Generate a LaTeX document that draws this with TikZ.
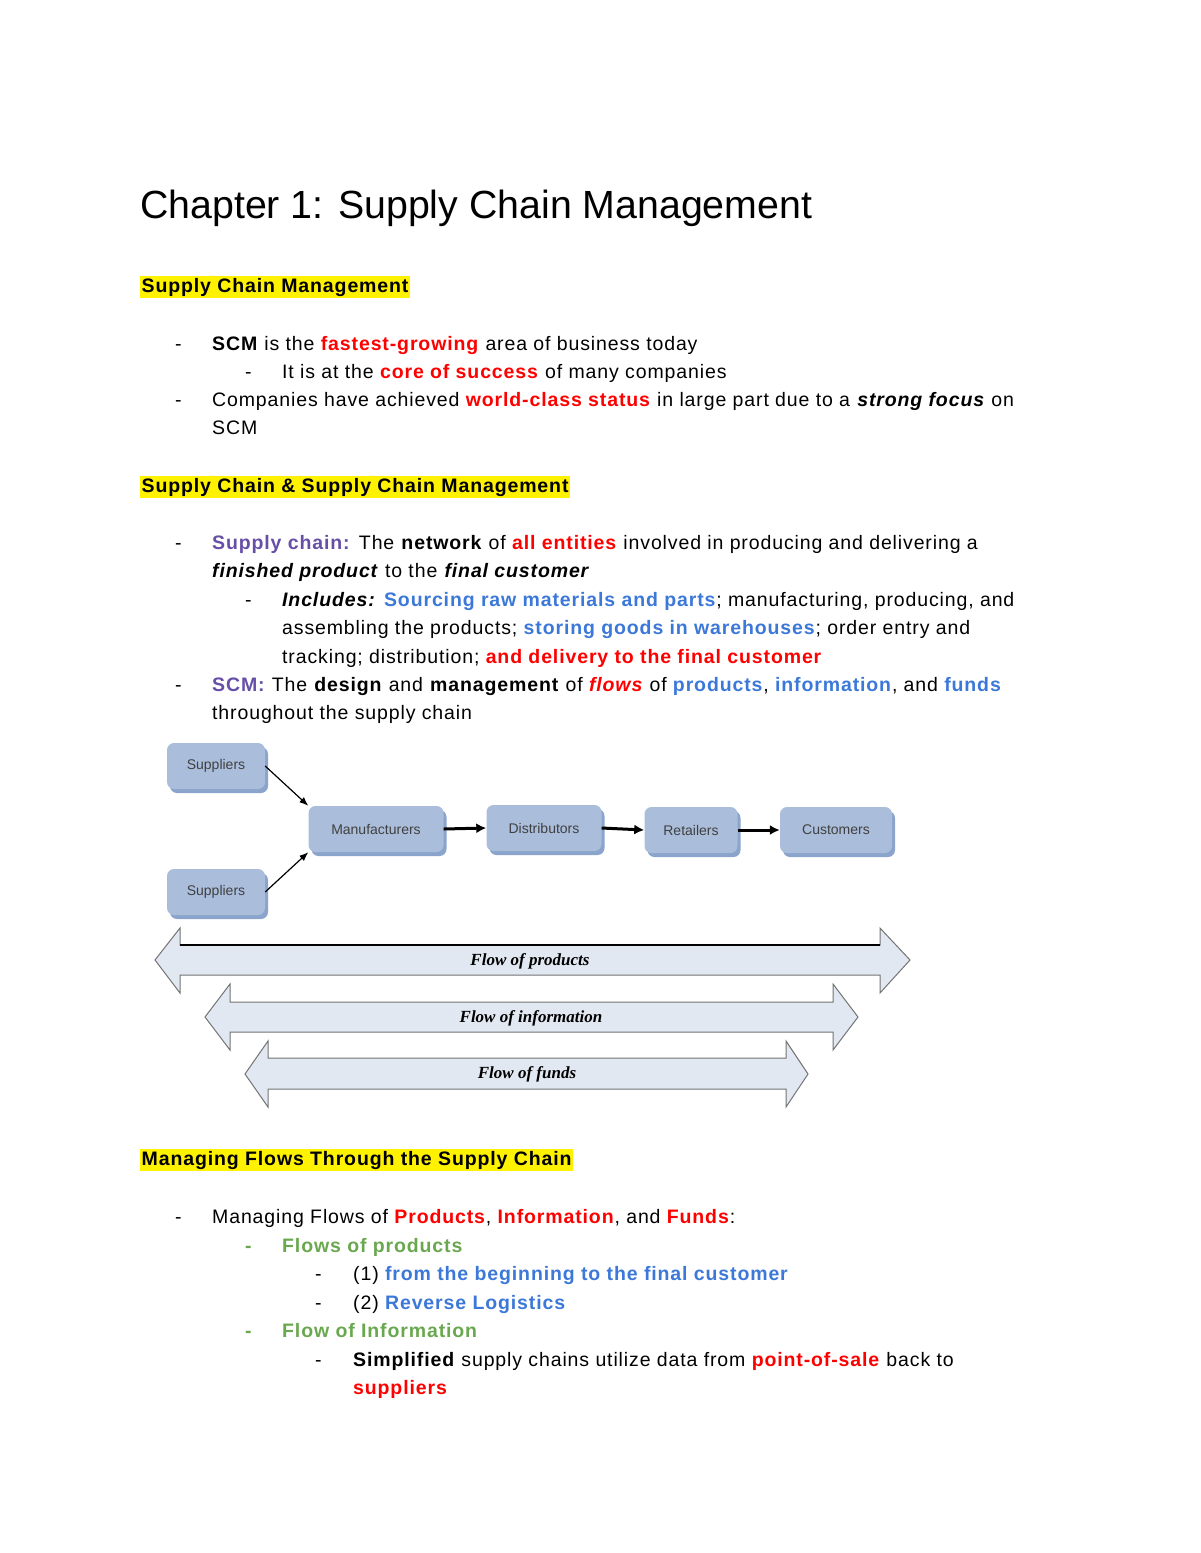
\documentclass[tikz,border=0pt]{standalone}
\usepackage{fontspec}
\setmainfont[LetterSpace=4.5]{Liberation Sans}
\newfontfamily\titlefont{Liberation Sans}
\newfontfamily\serifb{Liberation Serif}
\usetikzlibrary{arrows.meta,shadows}
\definecolor{myred}{HTML}{FF0000}
\definecolor{mypurple}{HTML}{674EA7}
\definecolor{myblue}{HTML}{3C78D8}
\definecolor{mygreen}{HTML}{6AA84F}
\definecolor{boxfill}{HTML}{AABDDB}
\definecolor{boxshade}{HTML}{8BA4CC}
\definecolor{arrfill}{HTML}{E2E8F2}
\newcommand\rb[1]{\textcolor{myred}{\textbf{#1}}}
\newcommand\bb[1]{\textcolor{myblue}{\textbf{#1}}}
\newcommand\pb[1]{\textcolor{mypurple}{\textbf{#1}}}
\newcommand\gb[1]{\textcolor{mygreen}{\textbf{#1}}}
\newcommand\bi[1]{\textbf{\textit{#1}}}
\begin{document}
\begin{tikzpicture}[x=1pt,y=-1pt,
  txt/.style={anchor=base west,inner sep=0pt,font=\fontsize{19.5}{23}\selectfont},
  hl/.style={anchor=base west,inner sep=1.5pt,fill=yellow,font=\fontsize{19.5}{23}\selectfont\bfseries},
  dsh/.style={anchor=base west,inner sep=0pt,font=\fontsize{19.5}{23}\selectfont},
  box/.style={draw=none,fill=boxfill,rounded corners=7pt,minimum height=46pt,font=\titlefont\fontsize{14}{16}\selectfont,text=black!75,
     drop shadow={shadow xshift=3pt,shadow yshift=-4pt,fill=boxshade,opacity=1}},
  conn/.style={-{Latex[length=9pt,width=7pt]},line width=1.2pt},
  thick conn/.style={-{Latex[length=10pt,width=10pt]},line width=3pt},
  flow/.style={fill=arrfill,draw=black!55,line width=1pt},
  flowlbl/.style={font=\serifb\fontsize{17}{19}\selectfont\bfseries\itshape,inner sep=0pt}]
\useasboundingbox (0,0) rectangle (1200,1553);
\node[anchor=base west,inner sep=0pt,font=\titlefont\fontsize{39.3}{46}\selectfont] (title) at (140,218) {Chapter 1: Supply Chain Management};
\node[hl] (h1) at (140,292) {Supply Chain Management};
\node[dsh] (d1) at (175,350) {-};
\node[txt] (t1) at (212,350) {\textbf{SCM} is the \rb{fastest-growing} area of business today};
\node[dsh] (d2) at (245,378) {-};
\node[txt] (t2) at (282,378) {It is at the \rb{core of success} of many companies};
\node[dsh] (d3) at (175,406) {-};
\node[txt] (t3) at (212,406) {Companies have achieved \rb{world-class status} in large part due to a \bi{strong focus} on};
\node[txt] (t4) at (212,434) {SCM};
\node[hl] (h2) at (140,492) {Supply Chain \& Supply Chain Management};
\node[dsh] (d4) at (175,549) {-};
\node[txt] (t5) at (212,549) {\pb{Supply chain:} The \textbf{network} of \rb{all entities} involved in producing and delivering a};
\node[txt] (t6) at (212,577) {\bi{finished product} to the \bi{final customer}};
\node[dsh] (d5) at (245,606) {-};
\node[txt] (t7) at (282,606) {\bi{Includes:} \bb{Sourcing raw materials and parts}; manufacturing, producing, and};
\node[txt] (t8) at (282,634) {assembling the products; \bb{storing goods in warehouses}; order entry and};
\node[txt] (t9) at (282,663) {tracking; distribution; \rb{and delivery to the final customer}};
\node[dsh] (d6) at (175,691) {-};
\node[txt] (t10) at (212,691) {\pb{SCM:} The \textbf{design} and \textbf{management} of \textcolor{myred}{\bi{flows}} of \bb{products}, \bb{information}, and \bb{funds}};
\node[txt] (t11) at (212,719) {throughout the supply chain};
% diagram
\node[box,minimum width=98pt] (s1) at (216,766) {Suppliers};
\node[box,minimum width=98pt] (s2) at (216,892) {Suppliers};
\node[box,minimum width=135pt] (man) at (376,829) {Manufacturers};
\node[box,minimum width=115pt] (dis) at (544,828) {Distributors};
\node[box,minimum width=93pt] (ret) at (691,830) {Retailers};
\node[box,minimum width=112pt] (cus) at (836,830) {Customers};
\draw[conn] (s1.east) -- (man.north west);
\draw[conn] (s2.east) -- (man.south west);
\draw[thick conn] (man.east) -- (dis.west);
\draw[thick conn] (dis.east) -- (ret.west);
\draw[thick conn] (ret.east) -- (cus.west);
% flows
\draw[flow] (155,960) -- (180,928) -- (180,945) -- (880,945) -- (880,928) -- (910,960) -- (880,993) -- (880,975) -- (180,975) -- (180,993) -- cycle;
\draw[line width=2.5pt] (180,945) -- (880,945);
\node[flowlbl] (fp) at (530,961) {Flow of products};
\draw[flow] (205,1017) -- (230,984) -- (230,1002) -- (833,1002) -- (833,984) -- (858,1017) -- (833,1050) -- (833,1032) -- (230,1032) -- (230,1050) -- cycle;
\node[flowlbl] (fi) at (531,1018) {Flow of information};
\draw[flow] (245,1074) -- (268,1041) -- (268,1058) -- (786,1058) -- (786,1041) -- (808,1074) -- (786,1107) -- (786,1089) -- (268,1089) -- (268,1107) -- cycle;
\node[flowlbl] (ff) at (527,1074) {Flow of funds};
% section 3
\node[hl] (h3) at (140,1165) {Managing Flows Through the Supply Chain};
\node[dsh] (d7) at (175,1223) {-};
\node[txt] (t12) at (212,1223) {Managing Flows of \rb{Products}, \rb{Information}, and \rb{Funds}:};
\node[dsh,text=mygreen] (d8) at (245,1252) {\textbf{-}};
\node[txt] (t13) at (282,1252) {\gb{Flows of products}};
\node[dsh] (d9) at (315,1280) {-};
\node[txt] (t14) at (353,1280) {(1) \bb{from the beginning to the final customer}};
\node[dsh] (d10) at (315,1309) {-};
\node[txt] (t15) at (353,1309) {(2) \bb{Reverse Logistics}};
\node[dsh,text=mygreen] (d11) at (245,1337) {\textbf{-}};
\node[txt] (t16) at (282,1337) {\gb{Flow of Information}};
\node[dsh] (d12) at (315,1366) {-};
\node[txt] (t17) at (353,1366) {\textbf{Simplified} supply chains utilize data from \rb{point-of-sale} back to};
\node[txt] (t18) at (353,1394) {\rb{suppliers}};
\end{tikzpicture}
\end{document}
